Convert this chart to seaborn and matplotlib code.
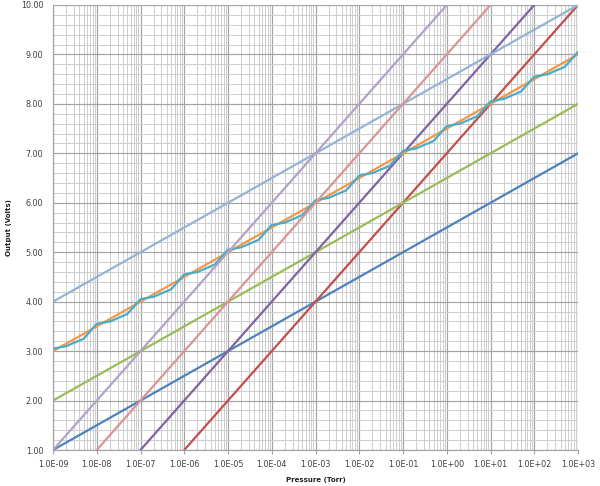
import matplotlib
matplotlib.use("Agg")
import matplotlib.pyplot as plt
import matplotlib.ticker as mticker
import numpy as np
import pandas as pd
import seaborn as sns

# ---- data ----
decades = [1e-9, 1e-8, 1e-7, 1e-6, 1e-5, 1e-4, 1e-3, 1e-2, 1e-1, 1e0, 1e1, 1e2, 1e3]
light_blue = [4.0, 4.5, 5.0, 5.5, 6.0, 6.5, 7.0, 7.5, 8.0, 8.5, 9.0, 9.5, 10.0]
orange = [3.0, 3.5, 4.0, 4.5, 5.0, 5.5, 6.0, 6.5, 7.0, 7.5, 8.0, 8.5, 9.0]
green = [2.0, 2.5, 3.0, 3.5, 4.0, 4.5, 5.0, 5.5, 6.0, 6.5, 7.0, 7.5, 8.0]
blue = [1.0, 1.5, 2.0, 2.5, 3.0, 3.5, 4.0, 4.5, 5.0, 5.5, 6.0, 6.5, 7.0]

lavender_x = [1e-9, 1e-8, 1e-7, 1e-6, 1e-5, 1e-4, 1e-3, 1e-2, 1e-1, 1e0]
pink_x = [1e-8, 1e-7, 1e-6, 1e-5, 1e-4, 1e-3, 1e-2, 1e-1, 1e0, 1e1]
purple_x = [1e-7, 1e-6, 1e-5, 1e-4, 1e-3, 1e-2, 1e-1, 1e0, 1e1, 1e2]
red_x = [1e-6, 1e-5, 1e-4, 1e-3, 1e-2, 1e-1, 1e0, 1e1, 1e2, 1e3]
steep_y = [1.0, 2.0, 3.0, 4.0, 5.0, 6.0, 7.0, 8.0, 9.0, 10.0]

cyan_x = [1e-9, 2e-9, 5e-9, 1e-8, 2e-8, 5e-8, 1e-7, 2e-7, 5e-7,
          1e-6, 2e-6, 5e-6, 1e-5, 2e-5, 5e-5, 1e-4, 2e-4, 5e-4,
          1e-3, 2e-3, 5e-3, 1e-2, 2e-2, 5e-2, 1e-1, 2e-1, 5e-1,
          1e0, 2e0, 5e0, 1e1, 2e1, 5e1, 1e2, 2e2, 5e2, 1e3]
cyan_y = [3.05, 3.10, 3.25, 3.55, 3.60, 3.75, 4.05, 4.10, 4.25,
          4.55, 4.60, 4.75, 5.05, 5.10, 5.25, 5.55, 5.60, 5.75,
          6.05, 6.10, 6.25, 6.55, 6.60, 6.75, 7.05, 7.10, 7.25,
          7.55, 7.60, 7.75, 8.05, 8.10, 8.25, 8.55, 8.60, 8.75, 9.05]

x_tick_labels = ["1.0E-09", "1.0E-08", "1.0E-07", "1.0E-06", "1.0E-05", "1.0E-04",
                 "1.0E-03", "1.0E-02", "1.0E-01", "1.0E+00", "1.0E+01", "1.0E+02", "1.0E+03"]
y_ticks = [1, 2, 3, 4, 5, 6, 7, 8, 9, 10]

series = [
    ("blue", decades, blue, "#4F81BD"),
    ("red", red_x, steep_y, "#C0504D"),
    ("green", decades, green, "#9BBB59"),
    ("purple", purple_x, steep_y, "#8064A2"),
    ("orange", decades, orange, "#F79646"),
    ("cyan", cyan_x, cyan_y, "#4BACC6"),
    ("lightblue", decades, light_blue, "#95B3D7"),
    ("pink", pink_x, steep_y, "#D99694"),
    ("lavender", lavender_x, steep_y, "#B3A2C7"),
]

frames = []
for name, xs, ys, _ in series:
    frames.append(pd.DataFrame({"x": xs, "y": ys, "series": name}))
df = pd.concat(frames, ignore_index=True)
palette = {name: c for name, _, _, c in series}

sns.set_theme(style="white")
plt.rcParams["font.family"] = ["DejaVu Sans"]

fig = plt.figure(figsize=(6.0, 4.86), dpi=100)
ax = fig.add_axes([53 / 600, 1 - 450 / 486, (578 - 53) / 600, (450 - 5) / 486])

ax.set_xscale("log")
ax.set_xlim(1e-9, 1e3)
ax.set_ylim(1, 10)

# grid
ax.xaxis.set_major_locator(mticker.FixedLocator(decades))
ax.xaxis.set_minor_locator(mticker.LogLocator(base=10, subs=np.arange(2, 10), numticks=100))
ax.yaxis.set_major_locator(mticker.FixedLocator(y_ticks))
ax.yaxis.set_minor_locator(mticker.MultipleLocator(0.2))
ax.grid(which="minor", color="#cfcfcf", linewidth=0.75)
ax.grid(which="major", color="#a3a3a3", linewidth=0.85)
ax.set_axisbelow(True)

sns.lineplot(data=df, x="x", y="y", hue="series", palette=palette,
             hue_order=[s[0] for s in series], sort=False, estimator=None,
             units="series", linewidth=1.6, legend=False, ax=ax)

ax.set_xticklabels(x_tick_labels)
ax.set_yticklabels([f"{v:.2f}" for v in y_ticks])
ax.tick_params(axis="x", which="major", length=3, width=0.8, color="#a3a3a3",
               labelsize=5.8, labelcolor="#404040", pad=4, direction="out", bottom=True)
ax.tick_params(axis="x", which="minor", length=0, bottom=False)
ax.tick_params(axis="y", which="both", length=0, labelsize=5.8, labelcolor="#404040", pad=7)

for side, sp in ax.spines.items():
    sp.set_visible(side in ("left", "bottom"))
    sp.set_color("#a3a3a3")
    sp.set_linewidth(0.85)

ax.set_xlabel("Pressure (Torr)", fontsize=5.0, fontweight="bold", color="#202020", labelpad=6)
ax.set_ylabel("Output (Volts)", fontsize=5.0, fontweight="bold", color="#202020", labelpad=6)

fig.savefig("out.png", dpi=100)
